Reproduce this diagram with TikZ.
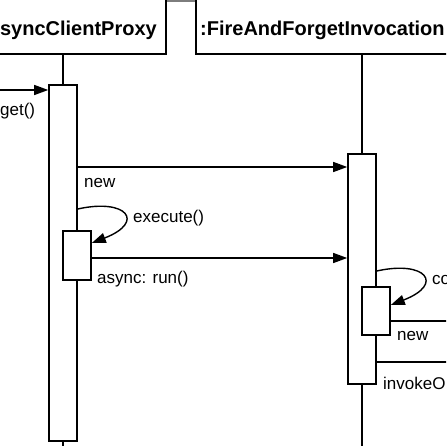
\documentclass[tikz,border=0pt]{standalone}
\usepackage{fontspec}
\setmainfont{Liberation Sans}
\usepackage{tikz}
\usetikzlibrary{
  arrows.meta,
  positioning
}
\definecolor{seqblack}{RGB}{0,0,0}
\definecolor{seqframe}{RGB}{125,125,125}
\tikzset{
  seqHeader/.style={
    rectangle,
    draw=seqblack,
    fill=white,
    line width=1.8pt,
    inner sep=0pt
  },
  seqTitle/.style={
    inner sep=0pt,
    font=\fontsize{20}{24}\selectfont\bfseries
  },
  seqActivation/.style={
    rectangle,
    draw=seqblack,
    fill=white,
    line width=1.6pt,
    minimum width=28pt,
    inner sep=0pt
  },
  seqLifeline/.style={
    line width=1.3pt,
    draw=seqblack
  },
  seqArrow/.style={
    -{Triangle[length=14pt,width=10pt]},
    line width=1.4pt,
    draw=seqblack
  },
  seqLine/.style={
    line width=1.4pt,
    draw=seqblack
  },
  seqLabel/.style={
    anchor=base west,
    inner sep=0pt,
    font=\fontsize{17}{20}\selectfont
  }
}

\begin{document}
\begin{tikzpicture}[x=1pt, y=-1pt]
  \useasboundingbox (0,0) rectangle (446,446);
  \clip (0,0) rectangle (446,446);
  \draw[seqframe, line width=2pt] (0,1) -- (446,1);

  % object headers
  \node[seqHeader, minimum width=197pt, minimum height=70pt,
    anchor=south east] (proxy) at (167,55) {};
  \node[seqTitle, anchor=base east] (proxyTitle) at (157,35.7)
    {syncClientProxy};
  \node[seqHeader, minimum width=270pt, minimum height=70pt,
    anchor=south west] (invoc) at (195,55) {};
  \node[seqTitle, anchor=base west] (invocTitle) at (200,35.7)
    {:FireAndForgetInvocation};

  % activations
  \node[seqActivation, minimum height=356pt, anchor=north]
    (proxyAct) at (63,84) {};
  \node[seqActivation, minimum height=230pt, anchor=north]
    (invocAct) at (362,153) {};
  \node[seqActivation, minimum height=49pt, anchor=north]
    (execAct) at (77,230) {};
  \node[seqActivation, minimum height=48pt, anchor=north]
    (callAct) at (376,286) {};

  \coordinate (caller) at (-5,90);
  \coordinate (proxyEnd) at (63,450);
  \coordinate (invocEnd) at (362,450);
  \coordinate (newOut) at (450,321);
  \coordinate (invokeOut) at (450,362);

  % lifelines
  \draw[seqLifeline] (proxyAct.north |- proxy.south) -- (proxyAct.north);
  \draw[seqLifeline] (proxyAct.south) -- (proxyEnd);
  \draw[seqLifeline] (invocAct.north |- invoc.south) -- (invocAct.north);
  \draw[seqLifeline] (invocAct.south) -- (invocEnd);

  % messages
  \draw[seqArrow] (caller) -- (caller -| proxyAct.west);
  \draw[seqArrow] (proxyAct.east |- 0,167) -- (invocAct.west |- 0,167);
  \draw[seqArrow] (proxyAct.east |- 0,209)
    .. controls +(49,-11) and +(54,-21) .. (execAct.east |- 0,243);
  \draw[seqArrow] (execAct.east |- 0,258) -- (invocAct.west |- 0,258);
  \draw[seqArrow] (invocAct.east |- 0,271)
    .. controls +(49,-11) and +(54,-21) .. (callAct.east |- 0,305);
  \draw[seqLine] (callAct.east |- newOut) -- (newOut);
  \draw[seqLine] (invocAct.east |- invokeOut) -- (invokeOut);

  % labels
  \node[seqLabel] (getLbl) at (0,116) {get()};
  \node[seqLabel] (newLbl) at (84,187) {new};
  \node[seqLabel] (execLbl) at (133,222) {execute()};
  \node[seqLabel] (runLbl) at (97,283) {async: run()};
  \node[seqLabel] (coLbl) at (432,284) {co};
  \node[seqLabel] (newLbl2) at (397,340) {new};
  \node[seqLabel] (invokeLbl) at (383,389) {invokeO};
\end{tikzpicture}
\end{document}
